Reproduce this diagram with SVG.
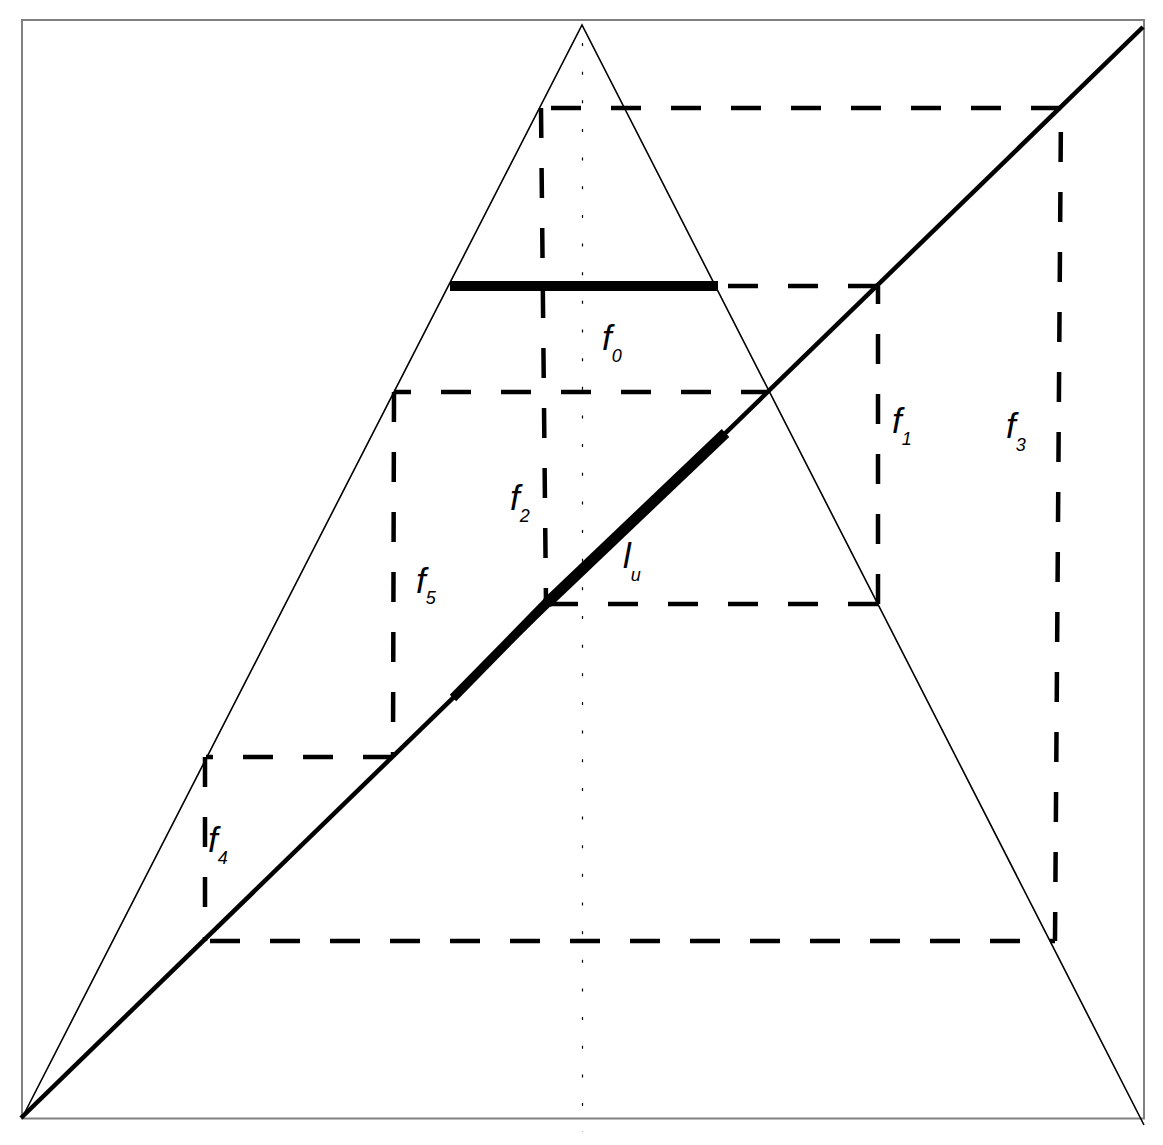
<svg xmlns="http://www.w3.org/2000/svg" width="1163" height="1145" viewBox="0 0 1163 1145">
<style>
.frame{fill:none;stroke:#808080;stroke-width:2}
.tri{fill:none;stroke:#000;stroke-width:1.6;stroke-linejoin:miter}
.diag{stroke:#000;stroke-width:4.5;stroke-linecap:butt}
.dash{fill:none;stroke:#000;stroke-width:4.5;stroke-dasharray:30 30;stroke-linecap:butt}
.dot{stroke:#000;stroke-width:1.2;stroke-dasharray:3 25.65}
.thick{stroke:#000;stroke-linecap:butt}
.lbl{font-family:"Liberation Sans",Arial,sans-serif;font-style:italic;font-size:35px;fill:#000}
.sub{font-size:18px}
</style>
<rect width="1163" height="1145" fill="#fff"/>
<g id="frame">
<rect class="frame" x="22" y="20" width="1122" height="1098.5"/>
</g>
<g id="axis">
<line class="dot" x1="582.5" y1="43" x2="582.5" y2="1132"/>
</g>
<g id="triangle">
<polyline class="tri" points="22,1118 582,25 1144,1125"/>
</g>
<g id="connectors">
<line class="diag" x1="21" y1="1118" x2="1143" y2="27"/>
<!-- f3 rectangle -->
<line class="dash" x1="551" y1="108" x2="1061" y2="108"/>
<line class="dash" x1="1061" y1="108" x2="1055" y2="941" style="stroke-dashoffset:36"/>
<line class="dash" x1="210" y1="941" x2="1055" y2="941"/>
<!-- f2 / f1 -->
<line class="dash" x1="541" y1="108" x2="546" y2="604"/>
<line class="dash" x1="878" y1="286" x2="718" y2="286"/>
<line class="dash" x1="878" y1="604" x2="878" y2="286"/>
<line class="dash" x1="548" y1="604" x2="878" y2="604"/>
<!-- f5 -->
<line class="dash" x1="394" y1="392" x2="768" y2="392" style="stroke-dashoffset:13"/>
<line class="dash" x1="394" y1="392" x2="393" y2="757"/>
<!-- f4 -->
<line class="dash" x1="206" y1="757" x2="393" y2="757" style="stroke-dashoffset:23"/>
<line class="dash" x1="205" y1="757" x2="205" y2="941"/>
</g>
<g id="thick-segments">
<line class="thick" x1="450" y1="286" x2="718" y2="286" stroke-width="10"/>
<line class="thick" x1="453" y1="698" x2="549" y2="600" stroke-width="9"/>
<line class="thick" x1="547" y1="603" x2="725.5" y2="433" stroke-width="11"/>
</g>
<g id="label-f0"><text class="lbl" x="602" y="350">f<tspan class="sub" dy="12">0</tspan></text></g>
<g id="label-f1"><text class="lbl" x="892" y="433">f<tspan class="sub" dy="12">1</tspan></text></g>
<g id="label-f2"><text class="lbl" x="510" y="510">f<tspan class="sub" dy="12">2</tspan></text></g>
<g id="label-f3"><text class="lbl" x="1006" y="438">f<tspan class="sub" dy="13">3</tspan></text></g>
<g id="label-f4"><text class="lbl" x="208" y="852">f<tspan class="sub" dy="12">4</tspan></text></g>
<g id="label-f5"><text class="lbl" x="416" y="593">f<tspan class="sub" dy="11">5</tspan></text></g>
<g id="label-lu"><text class="lbl" x="623" y="568">l<tspan class="sub" dy="13">u</tspan></text></g>
</svg>
